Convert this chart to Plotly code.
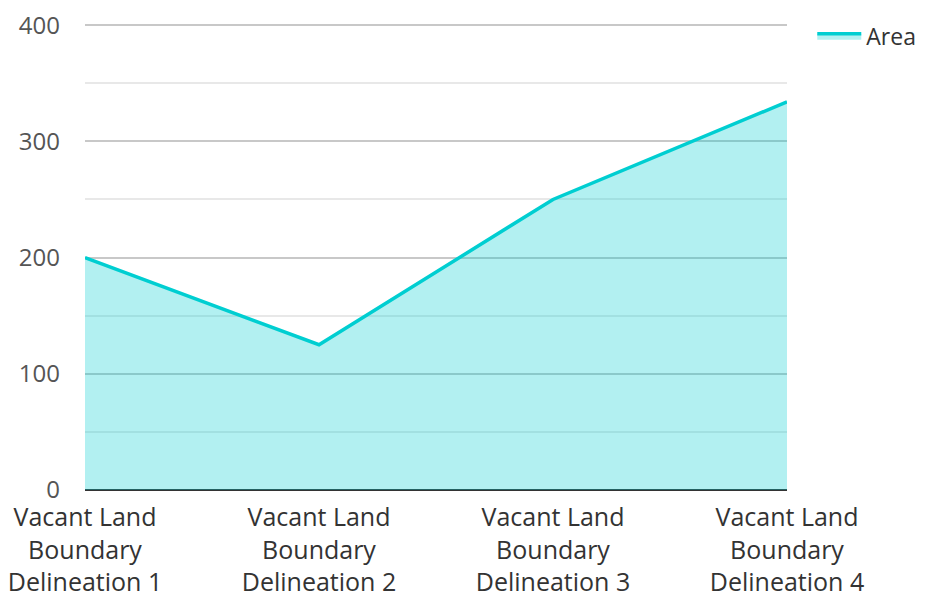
import plotly.graph_objects as go

categories = ["Vacant Land<br>Boundary<br>Delineation 1", "Vacant Land<br>Boundary<br>Delineation 2",
              "Vacant Land<br>Boundary<br>Delineation 3", "Vacant Land<br>Boundary<br>Delineation 4"]
area = [200, 125, 250, 334]
series_name = "Area"

fig = go.Figure()
fig.add_trace(go.Scatter(
    x=categories, y=area, name=series_name, mode="lines",
    line=dict(color="#00CED1", width=3.5),
    fill="tozeroy", fillcolor="rgba(0,206,209,0.3)",
))

font = "Open Sans, Noto Sans, sans-serif"
fig.update_layout(
    width=918, height=586,
    margin=dict(l=77, r=139, t=16, b=104, autoexpand=False),
    paper_bgcolor="white", plot_bgcolor="white",
    font=dict(family=font, size=24, color="#333"),
    showlegend=True,
    legend=dict(x=1.036, y=1.021, xanchor="left", yanchor="top", font=dict(size=23, color="#333"),
                bgcolor="rgba(0,0,0,0)", itemwidth=44),
    xaxis=dict(type="category", range=[0, 3], showgrid=False, showline=False, zeroline=False,
               tickfont=dict(size=25, color="#333"), ticks="", automargin=False, ticklabelstandoff=10,
               ticklabeloverflow="allow"),
    yaxis=dict(range=[0, 401], dtick=100, showgrid=True, gridcolor="#c8c8c8", gridwidth=1.5,
               zeroline=True, zerolinecolor="#333", zerolinewidth=2, automargin=False,
               tickfont=dict(size=24, color="#555"), ticks="", ticklabelstandoff=24,
               ticklabeloverflow="allow",
               minor=dict(dtick=50, showgrid=True, gridcolor="#e8e8e8", gridwidth=1.5)),
)
fig.write_html("out.html")
